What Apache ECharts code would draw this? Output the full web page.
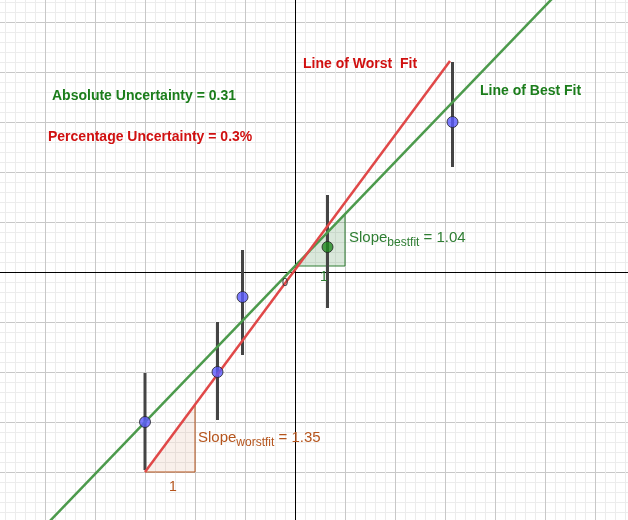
<!DOCTYPE html>
<html><head><meta charset="utf-8">
<script src="https://cdn.jsdelivr.net/npm/echarts@6/dist/echarts.min.js"></script>
<style>html,body{margin:0;padding:0;background:#fff}#c{width:628px;height:520px}</style>
</head><body><div id="c"></div>
<script>
// measured points and error bars
const pointsX = [-3, -1.55, -1.05, 0.65, 3.15];
const pointsY = [-3, -2, -0.5, 0.5, 3];
const barLow = [-3.96, -2.96, -1.66, -0.72, 2.1];
const barHigh = [-2.02, -1, 0.44, 1.54, 4.2];
const bestFit = [[-5.2, -5.29], [5.3, 5.63]];      // y = 1.04x + 0.12
const worstFit = [[-3, -4], [3.1, 4.22]];
const bestTri = [[0, 0.12], [1, 0.12], [1, 1.16]];
const worstTri = [[-3, -4], [-2, -4], [-2, -2.65]];

const chart = echarts.init(document.getElementById('c'));

const series = [];
// error bars
pointsX.forEach((x, i) => {
    series.push({type: 'line', data: [[x, barLow[i]], [x, barHigh[i]]], symbol: 'none', silent: true,
        lineStyle: {color: '#444', width: 3}, z: 3});
});
series.push({type: 'line', data: bestTri.concat([bestTri[0]]), symbol: 'none',
    lineStyle: {color: '#2e7d32', width: 1}, areaStyle: {color: 'rgba(46,125,50,0.25)', origin: 'start'}, z: 2});
series.push({type: 'line', data: worstTri.concat([worstTri[0]]), symbol: 'none',
    lineStyle: {color: '#b5541c', width: 1}, areaStyle: {color: 'rgba(181,84,28,0.12)', origin: 'start'}, z: 2});
series.push({type: 'line', data: bestFit, symbol: 'none', lineStyle: {color: '#4c9a4c', width: 2.5}, z: 4});
series.push({type: 'line', data: worstFit, symbol: 'none', lineStyle: {color: '#e04848', width: 2.5}, z: 4});
series.push({type: 'scatter', symbolSize: 11, z: 5,
    data: pointsX.map((x, i) => ({value: [x, pointsY[i]],
        itemStyle: {color: i === 3 ? '#1f8a1f' : '#5b5bff', borderColor: '#222', borderWidth: 1}}))});

const txt = (x, y, text, color, extra) => ({type: 'text', left: x, top: y, z: 10,
    style: Object.assign({text, fill: color, font: 'bold 14px Arial'}, extra || {})});

const axisCommon = {
    type: 'value', interval: 1,
    axisLine: {onZero: true, lineStyle: {color: '#000'}}, axisTick: {show: false},
    axisLabel: {color: '#333', fontSize: 11, margin: 10, fontFamily: 'Arial', showMinLabel: true, showMaxLabel: true,
        formatter: v => v === 0 ? '' : String(v).replace('-', '\u2212')},
    splitLine: {lineStyle: {color: '#c8c8c8'}},
    minorTick: {show: false, splitNumber: 5}, minorSplitLine: {show: true, lineStyle: {color: '#ececec'}}
};

chart.setOption({
    animation: false,
    grid: {left: -5, right: -17, top: -28, bottom: -2, containLabel: false, outerBoundsMode: 'none'},
    xAxis: Object.assign({min: -6, max: 7}, axisCommon),
    yAxis: Object.assign({min: -5, max: 6}, axisCommon),
    series: series,
    graphic: [
        txt(282, 277, '0', '#333', {font: '11px Arial'}),
        txt(52, 89, 'Absolute Uncertainty = 0.31', '#1b7d1b'),
        txt(48, 130, 'Percentage Uncertainty = 0.3%', '#d01010'),
        txt(303, 57, 'Line of Worst  Fit', '#d01010'),
        txt(480, 84, 'Line of Best Fit', '#1b7d1b'),
        txt(320, 270, '1', '#2e7d32', {font: '14px Arial'}),
        txt(169, 480, '1', '#b5541c', {font: '14px Arial'}),
        {type: 'text', left: 349, top: 230, z: 10, style: {
            text: '{m|Slope}{s|bestfit}{m| = 1.04}', fill: '#2e7d32',
            rich: {m: {font: '15px Arial', fill: '#2e7d32'}, s: {font: '12px Arial', fill: '#2e7d32', padding: [10, 0, 0, 0]}}}},
        {type: 'text', left: 198, top: 430, z: 10, style: {
            text: '{m|Slope}{s|worstfit}{m| = 1.35}', fill: '#b5541c',
            rich: {m: {font: '15px Arial', fill: '#b5541c'}, s: {font: '12px Arial', fill: '#b5541c', padding: [10, 0, 0, 0]}}}}
    ]
});
</script></body></html>
